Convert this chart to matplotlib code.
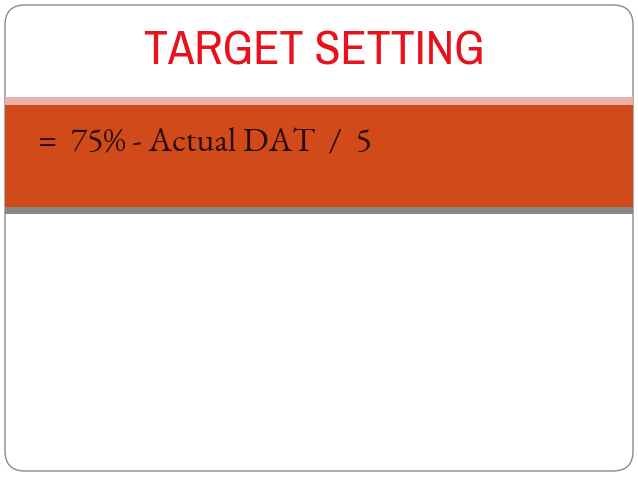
import matplotlib.pyplot as plt
from matplotlib.patches import FancyBboxPatch, Rectangle

title = 'TARGET SETTING'
formula = '=  75% - Actual DAT  /  5'

# slide frame and band layout (pixels, y down)
frame = (5, 5, 628, 466)
bands = [
    (97, 8, '#e8b1aa'),
    (105, 102, '#d14a19'),
    (207, 7, '#8c8585'),
]

fig = plt.figure(figsize=(6.38, 4.78), dpi=100)
ax = fig.add_axes([0, 0, 1, 1])
ax.set_xlim(0, 638)
ax.set_ylim(478, 0)
ax.axis('off')

x0, y0, w, h = frame
ax.add_patch(FancyBboxPatch((x0 + 20, y0 + 20), w - 40, h - 40,
                            boxstyle='round,pad=20', fc='white', ec='#8a8a8a', lw=1.0))

for y, bh, col in bands:
    ax.add_patch(Rectangle((x0, y), w, bh, fc=col, ec='none'))

ax.text(314, 64, title, color='#e8121c', fontsize=34.5,
        family=['Archivo Narrow', 'Liberation Sans'], ha='center', va='baseline')
ax.text(38, 151, formula, color='#2a0c08', fontsize=24.5,
        family=['EB Garamond', 'Liberation Serif'], ha='left', va='baseline')

fig.savefig('out.png', dpi=100)
